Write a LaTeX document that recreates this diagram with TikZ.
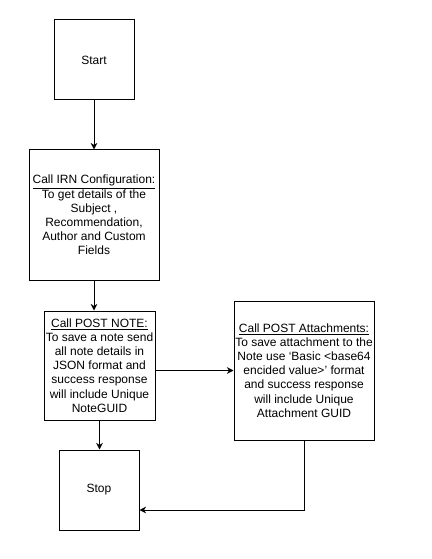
\documentclass[tikz,border=0pt]{standalone}
\usepackage{fontspec}
\setmainfont{Liberation Sans}
\usetikzlibrary{arrows.meta}
\begin{document}
\begin{tikzpicture}[x=0.75pt,y=-0.75pt,
  box/.style={draw, line width=0.75pt, inner sep=0pt, align=center, font=\fontsize{9}{10.6}\selectfont},
  conn/.style={draw, line width=0.75pt, -{Stealth[length=5pt,width=5pt]}}]
\useasboundingbox (0,0) rectangle (431,559);
\node[box, minimum width=60pt, minimum height=60pt] (start) at (94,60) {Start};
\node[box, minimum width=97.5pt, minimum height=97.5pt] (irn) at (94,215)
  {\underline{Call IRN Configuration:}\\To get details of the\\Subject ,\\Recommendation,\\Author and Custom\\Fields};
\node[box, minimum width=83.25pt, minimum height=81.75pt] (note) at (99.5,365.5)
  {\underline{Call POST NOTE:}\\To save a note send\\all note details in\\JSON format and\\success response\\will include Unique\\NoteGUID};
\node[box, minimum width=105pt, minimum height=104.25pt] (att) at (304,370.5)
  {\underline{Call POST Attachments:}\\To save attachment to the\\Note use `Basic <base64\\encided value>' format\\and success response\\will include Unique\\Attachment GUID};
\node[box, minimum width=60pt, minimum height=60pt] (stop) at (99,490) {Stop};
\draw[conn] (start.south) -- (irn.north);
\draw[conn] (irn.south) -- (irn.south |- note.north);
\draw[conn] (note.south) -- (note.south |- stop.north);
\draw[conn] (att.west -| note.east) -- (att.west);
\draw[conn] (att.south) |- ([yshift=-15pt]stop.east);
\end{tikzpicture}
\end{document}
